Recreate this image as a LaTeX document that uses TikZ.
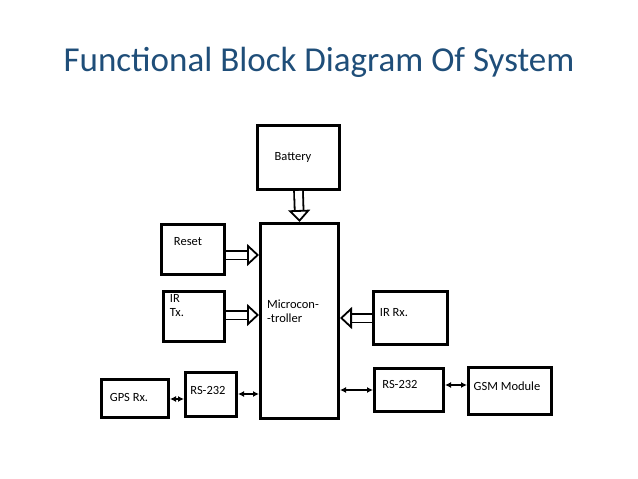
\documentclass[tikz,border=0pt]{standalone}
\usepackage{fontspec}
\setmainfont{Carlito}
\usetikzlibrary{positioning,arrows.meta}
\definecolor{titleblue}{RGB}{31,78,121}
\tikzset{
  block/.style={draw, line width=3pt, anchor=north west, inner sep=4pt},
  label/.style={font=\fontsize{12.5}{14}\selectfont},
  fat/.style={draw, line width=1.8pt, double, double distance=7pt,
    -{Triangle[open, length=12pt, width=22pt, line width=1.8pt]}},
  link/.style={draw, line width=1.5pt, {Latex[length=6pt,width=6pt]}-{Latex[length=6pt,width=6pt]}},
}
\begin{document}
\begin{tikzpicture}[x=1pt, y=-1pt]
  \useasboundingbox (0,0) rectangle (638,479);
  \node[text=titleblue, font=\fontsize{35}{40}\selectfont] (title) at (319,62) {Functional Block Diagram Of System};
  % blocks
  \node[block, minimum width=82pt, minimum height=64pt] (battery) at (256,124) {};
  \node[label] (batterytext) at (293,157) {Battery};
  \node[block, minimum width=78pt, minimum height=195pt] (mcu) at (259,222) {};
  \node[label, align=left] (mcutext) at (293,311) {Microcon-\\-troller};
  \node[block, minimum width=63pt, minimum height=50pt] (reset) at (160,223) {};
  \node[label] (resettext) at (188,242) {Reset};
  \node[block, minimum width=61pt, minimum height=50pt] (irtx) at (162,290) {};
  \node[label, align=left] (irtxtext) at (177,306) {IR\\Tx.};
  \node[block, minimum width=74pt, minimum height=53pt] (irrx) at (372,290) {};
  \node[label] (irrxtext) at (394,313) {IR Rx.};
  \node[block, minimum width=67pt, minimum height=38pt] (gps) at (100,378) {};
  \node[label] (gpstext) at (129,397) {GPS Rx.};
  \node[block, minimum width=51pt, minimum height=44pt] (rsl) at (184,371) {};
  \node[label] (rsltext) at (208,390) {RS-232};
  \node[block, minimum width=69pt, minimum height=43pt] (rsr) at (373,367) {};
  \node[label] (rsrtext) at (400,384) {RS-232};
  \node[block, minimum width=83pt, minimum height=47pt] (gsm) at (467,366) {};
  \node[label] (gsmtext) at (507,386) {GSM Module};
  % connectors
  \draw[fat] (battery.south) -- (mcu.north);
  \draw[fat] (reset.east |- 0,255) -- (mcu.west |- 0,255);
  \draw[fat] (irtx.east |- 0,315) -- (mcu.west |- 0,315);
  \draw[fat] (irrx.west |- 0,318) -- (mcu.east |- 0,318);
  \draw[link] (gps.east |- 0,399) -- (rsl.west |- 0,399);
  \draw[link] (rsl.east |- 0,394) -- (mcu.west |- 0,394);
  \draw[link] (mcu.east |- 0,390) -- (rsr.west |- 0,390);
  \draw[link] (rsr.east |- 0,385) -- (gsm.west |- 0,385);
\end{tikzpicture}
\end{document}
